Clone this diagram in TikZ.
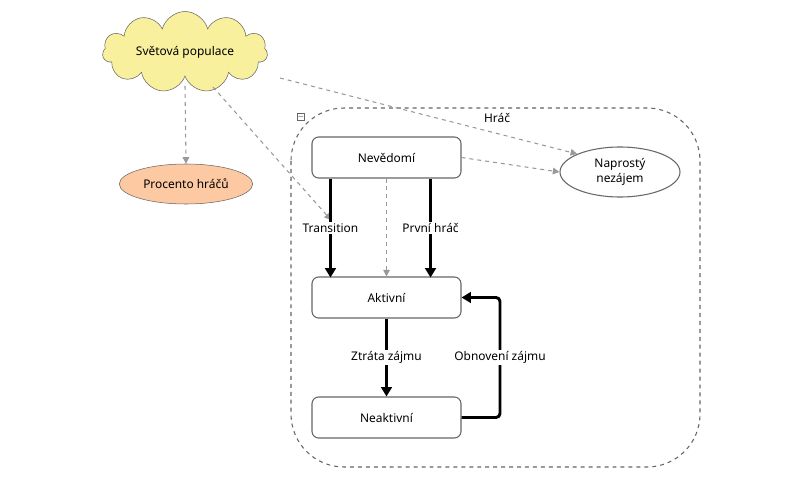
\documentclass[tikz,border=0pt]{standalone}
\usepackage{fontspec}
\setmainfont{Noto Sans}
\usetikzlibrary{shapes.geometric,shapes.symbols,arrows.meta,positioning}
\definecolor{cloudy}{HTML}{F8F09C}
\definecolor{peach}{HTML}{FCC9A2}
\definecolor{edge}{HTML}{666666}
\tikzset{
 box/.style={draw=edge,thick,rounded corners=5pt,fill=white,minimum width=149*0.0265cm,minimum height=41*0.0265cm,font=\small},
 strong/.style={line width=2.2pt,-{Triangle[length=7pt,width=8pt]}},
 weak/.style={gray!80,dashed,thick,-{Triangle[length=5pt,width=5pt]}},
 lab/.style={fill=white,font=\small,inner sep=1pt}
}
\begin{document}
\begin{tikzpicture}[x=0.0265cm,y=-0.0265cm]
\useasboundingbox (0,0) rectangle (800,485);
\draw[edge,dashed,thick,rounded corners=40] (291,108) rectangle (700,467);
\node[font=\small] (hrac) at (497,118) {Hráč};
\node[draw=edge,minimum size=5pt,inner sep=0,font=\tiny] (mn) at (301,117) {$-$};
\node[cloud,cloud puffs=11,aspect=3,draw=edge,fill=cloudy,minimum width=165*0.0265cm,minimum height=58*0.0265cm,font=\small] (sv) at (185,52) {Světová populace};
\node[ellipse,draw=edge,fill=peach,minimum width=122*0.0265cm,minimum height=40*0.0265cm,font=\small] (pr) at (186,184) {Procento hráčů};
\node[ellipse,draw=edge,thick,fill=white,minimum width=120*0.0265cm,minimum height=50*0.0265cm,font=\small,align=center,inner sep=1pt] (nz) at (620,172) {Naprostý\\nezájem};
\node[box] (nev) at (386.5,157.5) {Nevědomí};
\node[box] (akt) at (386.5,297.5) {Aktivní};
\node[box] (nea) at (386.5,417.5) {Neaktivní};
\coordinate (t1) at (331,220);
\draw[weak] (185,86) -- (pr.north);
\draw[weak] (213,87) -- (t1);
\draw[weak] (280,78) -- (nz.north west);
\draw[weak] (nev.east) -- (nz.west);
\draw[weak] (nev.south) -- (akt.south |- akt.north);
\draw[strong] (nev.south west)++(19,0) -- ++(0,99) node[lab,midway] {Transition};
\draw[strong] (nev.south east)++(-31,0) -- ++(0,99) node[lab,midway] {První hráč};
\draw[strong] (akt.south) -- (nea.north) node[lab,midway] {Ztráta zájmu};
\draw[line width=2.2pt,rounded corners=3pt,-{Triangle[length=7pt,width=8pt]}] (nea.east) -- (500,417.5) -- (500,297.5) node[lab,pos=0.5] {Obnovení zájmu} -- (akt.east);
\end{tikzpicture}
\end{document}
